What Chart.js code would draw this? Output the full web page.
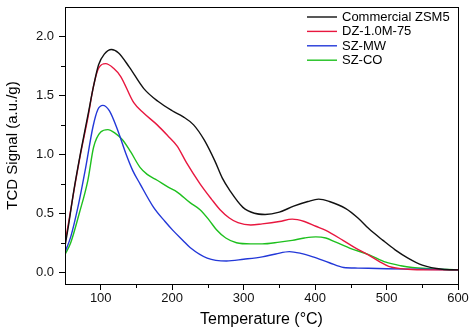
<!DOCTYPE html>
<html>
<head>
<meta charset="utf-8">
<script src="https://cdn.jsdelivr.net/npm/chart.js@4"></script>
<style>
  html, body { margin: 0; padding: 0; background: #fff; }
  #wrap { width: 474px; height: 330px; }
</style>
</head>
<body>
<div id="wrap"><canvas id="myChart" width="474" height="330"></canvas></div>
<script>
// TPD profiles, [temperature °C, signal a.u./g]
const zsm5 = [
  [50, 0.22], [55, 0.40], [62, 0.68], [72, 1.02], [82, 1.33], [90, 1.58], [97, 1.76],
  [105, 1.85], [115, 1.89], [125, 1.86], [140, 1.74], [160, 1.56], [180, 1.45],
  [200, 1.37], [215, 1.32], [230, 1.25], [245, 1.12], [260, 0.94], [270, 0.80],
  [281, 0.69], [299, 0.55], [315, 0.50], [330, 0.49], [350, 0.51], [370, 0.56],
  [390, 0.60], [405, 0.62], [420, 0.60], [443, 0.54], [460, 0.46], [475, 0.37],
  [495, 0.27], [512, 0.19], [530, 0.12], [550, 0.06], [578, 0.025], [600, 0.02]
];
const dz = [
  [50, 0.25], [55, 0.42], [62.5, 0.69], [72, 1.01], [82, 1.31], [90, 1.58], [97, 1.73],
  [107, 1.77], [118, 1.73], [128, 1.66], [146, 1.44], [160, 1.35], [179, 1.25],
  [195, 1.15], [207, 1.07], [220, 0.93], [239, 0.75], [255, 0.62], [267, 0.53],
  [280, 0.46], [292, 0.42], [310, 0.40], [326, 0.41], [350, 0.43], [368, 0.45],
  [385, 0.43], [401, 0.39], [415, 0.355], [439, 0.27], [455, 0.21], [475, 0.145],
  [490, 0.09], [503, 0.05], [530, 0.025], [560, 0.02], [600, 0.02]
];
const szMw = [
  [50, 0.17], [58, 0.30], [68, 0.55], [79, 0.89], [89, 1.23], [96, 1.38], [103, 1.415],
  [112, 1.37], [124, 1.20], [135, 1.01], [145, 0.86], [155, 0.75], [174, 0.55],
  [190, 0.43], [201, 0.355], [215, 0.27], [225, 0.21], [249, 0.12], [276, 0.095],
  [300, 0.11], [326, 0.13], [345, 0.155], [364, 0.175], [380, 0.16], [397, 0.13],
  [420, 0.08], [440, 0.04], [460, 0.035], [500, 0.03], [550, 0.025], [600, 0.02]
];
const szCo = [
  [50, 0.15], [58, 0.25], [70, 0.50], [82, 0.78], [90, 1.06], [100, 1.19], [110, 1.21],
  [120, 1.18], [131, 1.12], [142, 1.02], [155, 0.89], [165, 0.83], [179, 0.78],
  [195, 0.72], [207, 0.68], [225, 0.59], [239, 0.53], [252, 0.44], [262, 0.36],
  [275, 0.29], [290, 0.25], [310, 0.24], [326, 0.24], [350, 0.255], [368, 0.27],
  [385, 0.29], [401, 0.30], [415, 0.29], [429, 0.255], [450, 0.20], [475, 0.15],
  [499, 0.085], [520, 0.055], [536, 0.04], [560, 0.03], [600, 0.02]
];
const seriesNames = ['Commercial ZSM5', 'DZ-1.0M-75', 'SZ-MW', 'SZ-CO'];
const seriesColors = ['#111111', '#e8173f', '#2338d8', '#1ec01e'];

const xMajor = [100, 200, 300, 400, 500, 600];
const xMinor = [150, 250, 350, 450, 550];
const yMajor = [0, 0.5, 1.0, 1.5, 2.0];
const yMinor = [0.25, 0.75, 1.25, 1.75];

const FONT = 'Arial, "Liberation Sans", sans-serif';

// box around the plot plus short minor tick marks
const framePlugin = {
  id: 'frame',
  afterDraw(chart) {
    const {ctx, chartArea: a, scales} = chart;
    ctx.save();
    ctx.strokeStyle = '#000';
    ctx.lineWidth = 1;
    ctx.strokeRect(a.left + 0.5, a.top + 0.5, a.right - a.left, a.bottom - a.top);
    ctx.beginPath();
    xMinor.forEach(v => {
      const px = Math.round(scales.x.getPixelForValue(v)) + 0.5;
      ctx.moveTo(px, a.bottom);
      ctx.lineTo(px, a.bottom + 4);
    });
    yMinor.forEach(v => {
      const py = Math.round(scales.y.getPixelForValue(v)) + 0.5;
      ctx.moveTo(a.left, py);
      ctx.lineTo(a.left - 4, py);
    });
    ctx.stroke();
    ctx.restore();
  }
};

// legend drawn inside the plot, top right
const insideLegend = {
  id: 'insideLegend',
  afterDraw(chart) {
    const {ctx} = chart;
    ctx.save();
    ctx.font = '13px ' + FONT;
    ctx.textBaseline = 'middle';
    chart.data.datasets.forEach((ds, i) => {
      const y = 17 + i * 14.4;
      ctx.strokeStyle = ds.borderColor;
      ctx.lineWidth = 1.4;
      ctx.beginPath();
      ctx.moveTo(307, y);
      ctx.lineTo(337, y);
      ctx.stroke();
      ctx.fillStyle = '#000';
      ctx.fillText(ds.label, 342, y + 0.5);
    });
    ctx.restore();
  }
};

const ctx = document.getElementById('myChart');
const myChart = new Chart(ctx, {
  type: 'line',
  data: {
    datasets: [zsm5, dz, szMw, szCo].map((s, i) => ({
      label: seriesNames[i],
      data: s.map(p => ({x: p[0], y: p[1]})),
      borderColor: seriesColors[i],
      borderWidth: 1.4,
      pointRadius: 0,
      fill: false,
      cubicInterpolationMode: 'monotone'
    }))
  },
  options: {
    responsive: false,
    animation: false,
    layout: { padding: { top: 7, right: 16, left: 0, bottom: 0 } },
    plugins: {
      legend: { display: false },
      tooltip: { enabled: false }
    },
    scales: {
      x: {
        type: 'linear',
        min: 50,
        max: 600,
        afterBuildTicks: scale => { scale.ticks = xMajor.map(v => ({value: v})); },
        afterFit: scale => {
          scale.height = 46;
          scale.paddingLeft = 0;
          scale.paddingRight = 0;
        },
        ticks: {
          color: '#111',
          font: { family: FONT, size: 13 },
          padding: 1,
          maxRotation: 0,
          callback: v => String(v)
        },
        grid: { drawOnChartArea: false, drawTicks: true, tickLength: 6, color: '#000' },
        border: { display: true, color: '#000', width: 1 },
        title: {
          display: true,
          text: 'Temperature (°C)',
          color: '#000',
          font: { family: FONT, size: 16 },
          padding: { top: 0, bottom: 1 }
        }
      },
      y: {
        min: -0.1,
        max: 2.25,
        afterBuildTicks: scale => { scale.ticks = yMajor.map(v => ({value: v})); },
        afterFit: scale => {
          scale.width = 65;
          scale.paddingTop = 0;
          scale.paddingBottom = 0;
        },
        ticks: {
          color: '#111',
          font: { family: FONT, size: 13 },
          padding: 5,
          callback: v => Number(v).toFixed(1)
        },
        grid: { drawOnChartArea: false, drawTicks: true, tickLength: 6, color: '#000' },
        border: { display: true, color: '#000', width: 1 },
        title: {
          display: true,
          text: 'TCD Signal (a.u./g)',
          color: '#000',
          font: { family: FONT, size: 15 },
          padding: { top: 4, bottom: 0 }
        }
      }
    }
  },
  plugins: [framePlugin, insideLegend]
});
</script>
</body>
</html>
